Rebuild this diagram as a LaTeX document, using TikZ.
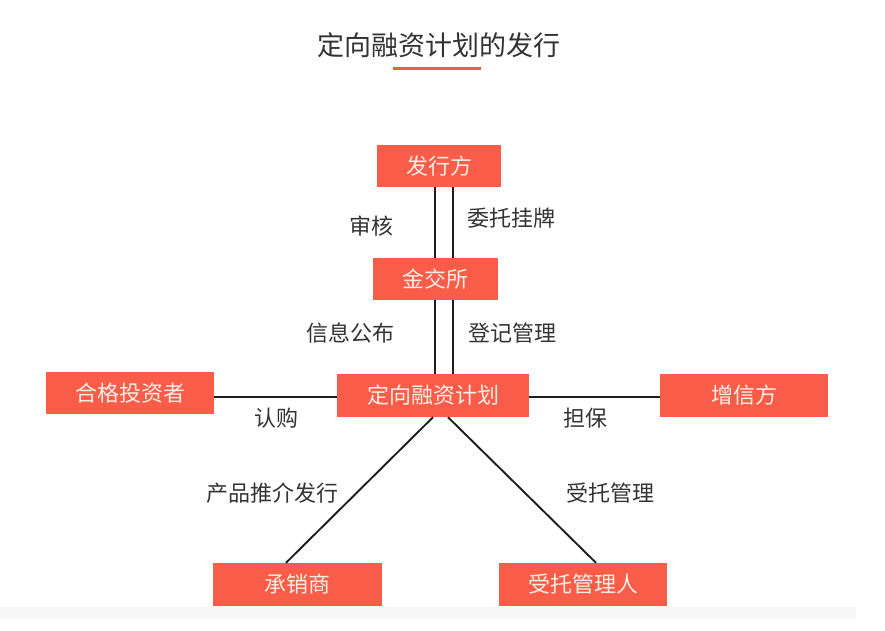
\documentclass[tikz,border=0pt]{standalone}
\usepackage{fontspec}
\setmainfont{Noto Sans CJK SC}
\usetikzlibrary{calc}
\definecolor{boxred}{HTML}{F95D4A}
\definecolor{boxtext}{HTML}{FFEDE4}
\definecolor{labgray}{HTML}{333333}
\definecolor{lineblk}{HTML}{1E1E1E}
\definecolor{titleline}{HTML}{E8613C}
\definecolor{band}{HTML}{F7F7F7}
\begin{document}
\begin{tikzpicture}[x=1pt,y=-1pt,
  redbox/.style={fill=boxred,draw=none,inner sep=0pt,text=boxtext,font=\fontsize{22}{25}\selectfont},
  lab/.style={text=labgray,inner sep=0pt,font=\fontsize{22}{25}\selectfont},
  conn/.style={draw=lineblk,line width=1.9pt}]
\useasboundingbox (0,0) rectangle (885,630);
\fill[white] (0,0) rectangle (885,630);
\fill[band] (0,607) rectangle (856,619);
% title
\node[text=labgray,inner sep=0pt,font=\fontsize{27}{30}\selectfont] (title) at (439,45) {定向融资计划的发行};
\draw[titleline,line width=3pt] (393,68) -- (481,68);
% boxes
\node[redbox,minimum width=124pt,minimum height=42pt] (fx) at (439,166) {发行方};
\node[redbox,minimum width=125pt,minimum height=42pt] (jjs) at (435.5,279) {金交所};
\node[redbox,minimum width=192pt,minimum height=43pt] (plan) at (433,395.5) {定向融资计划};
\node[redbox,minimum width=168pt,minimum height=42pt] (inv) at (130,393) {合格投资者};
\node[redbox,minimum width=168pt,minimum height=43pt] (zx) at (744,395.5) {增信方};
\node[redbox,minimum width=169pt,minimum height=43pt] (cx) at (297.5,584.5) {承销商};
\node[redbox,minimum width=168pt,minimum height=43pt] (st) at (583,584.5) {受托管理人};
% connectors
\coordinate (vl) at (435,0);
\coordinate (vr) at (453,0);
\draw[conn] (vl |- fx.south) -- (vl |- jjs.north);
\draw[conn] (vr |- fx.south) -- (vr |- jjs.north);
\draw[conn] (vl |- jjs.south) -- (vl |- plan.north);
\draw[conn] (vr |- jjs.south) -- (vr |- plan.north);
\draw[conn] (inv.east |- 0,397) -- (plan.west |- 0,397);
\draw[conn] (plan.east |- 0,397) -- (zx.west |- 0,397);
\draw[conn] (plan.south) -- ($(cx.north)+(-11.5,0)$);
\draw[conn] ($(plan.south)+(15,0)$) -- ($(st.north)+(13,0)$);
% labels
\node[lab] (l1) at (371,226) {审核};
\node[lab] (l2) at (511,218) {委托挂牌};
\node[lab] (l3) at (350,333) {信息公布};
\node[lab] (l4) at (512,333) {登记管理};
\node[lab] (l5) at (276,418) {认购};
\node[lab] (l6) at (585,418) {担保};
\node[lab] (l7) at (272,493) {产品推介发行};
\node[lab] (l8) at (610,493) {受托管理};
\end{tikzpicture}
\end{document}
